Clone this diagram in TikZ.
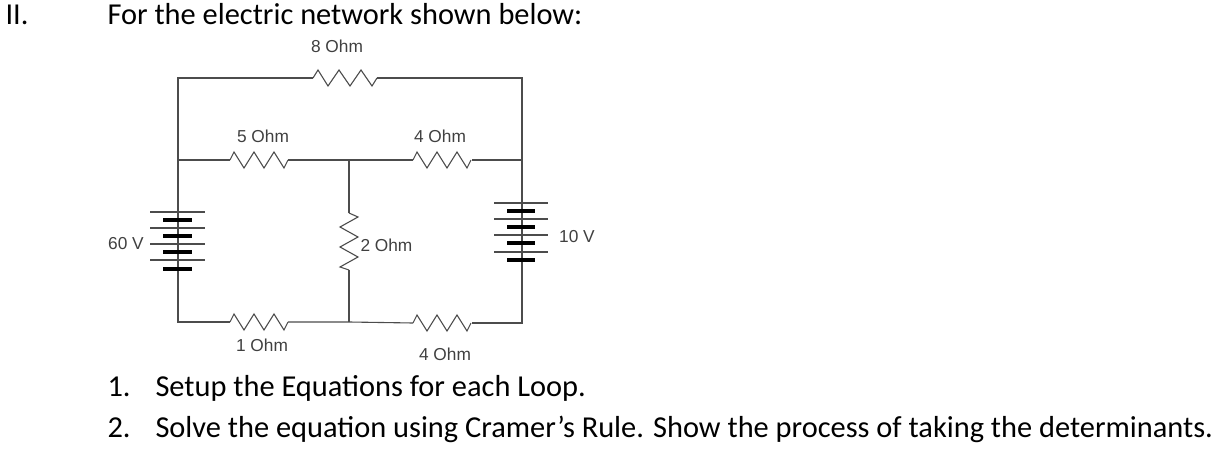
\documentclass[tikz,border=0pt]{standalone}
\usepackage{fontspec}
\setmainfont{Carlito}
\newfontfamily\arial{Liberation Sans}
\begin{document}
\begin{tikzpicture}[x=1pt,y=-1pt,line width=1pt,
  lbl/.style={font=\arial\fontsize{17.3}{19}\selectfont,text=black!75,inner sep=0pt},
  txt/.style={font=\fontsize{30.4}{34}\selectfont,anchor=base west,inner sep=0pt},
  wire/.style={draw=black!70,line width=1.1pt},
  hres/.pic={\draw[wire] (0,0)--(4,-8)--(14,8)--(24,-8)--(34,8)--(44,-8)--(54,8)--(58,0);},
  hres8/.pic={\draw[wire] (0,0)--(5,-8)--(15,8)--(26,-8)--(37,8)--(48,-8)--(59,8)--(64,0);},
  vres/.pic={\draw[wire] (0,0)--(9,4)--(-9,14)--(9,24)--(-9,34)--(9,44)--(-9,54)--(0,57);},
  thin/.style={draw=black!70,line width=1.1pt},
  thick/.style={draw=black,line width=4pt}]
\useasboundingbox (0,0) rectangle (1226,449);
\coordinate (TL) at (178,78); \coordinate (TR) at (522,78);
\coordinate (ML) at (178,160); \coordinate (MM) at (349,160); \coordinate (MR) at (522,160);
\coordinate (BL) at (178,322); \coordinate (BM) at (349,322); \coordinate (BR) at (522,323);
% wires
\draw[wire] (178,212) -- (ML) -- (TL) -- (313,78);
\draw[wire] (377,78) -- (TR) -- (MR) -- (522,203);
\draw[wire] (ML) -- (230,160); \draw[wire] (288,160) -- (MM) -- (413,160); \draw[wire] (472,160) -- (MR);
\draw[wire] (MM) -- (349,213); \draw[wire] (349,270) -- (BM);
\draw[wire] (178,269) -- (BL) -- (230,322); \draw[wire] (288,322) -- (BM) -- (413,323); \draw[wire] (472,323) -- (BR) -- (522,260);
\pic at (313,78) {hres8};
\pic at (230,160) {hres};
\pic at (413,160) {hres};
\pic at (230,322) {hres};
\pic at (413,323) {hres};
\pic at (349,213) {vres};
% left battery
\draw[thin] (178,212) -- (178,269);
\foreach \y in {212,228,244,260} \draw[thin] (150,\y) -- (205,\y);
\foreach \y in {220,236,252,269} \draw[thick] (163,\y) -- (192,\y);
% right battery
\draw[thin] (522,203) -- (522,260);
\foreach \y in {203,219,235,252} \draw[thin] (494,\y) -- (548,\y);
\foreach \y in {211,227,243,260} \draw[thick] (507,\y) -- (535,\y);
% labels
\node[lbl] (l8) at (337,46) {8 Ohm};
\node[lbl] (l5) at (263,136) {5 Ohm};
\node[lbl] (l4a) at (440,136) {4 Ohm};
\node[lbl,anchor=west] (l2) at (360,245) {2 Ohm};
\node[lbl] (l60) at (126,244) {60 V};
\node[lbl] (l10) at (577,237) {10 V};
\node[lbl] (l1) at (262,345) {1 Ohm};
\node[lbl] (l4b) at (445,354) {4 Ohm};
% text
\node[txt] (t0) at (5,25) {II.};
\node[txt] (t1) at (107,25) {For the electric network shown below:};
\node[txt] (n1) at (107,396) {1.};
\node[txt] (s1) at (155,396) {Setup the Equations for each Loop.};
\node[txt] (n2) at (107,437) {2.};
\node[txt] (s2) at (155,437) {Solve the equation using Cramer’s Rule. Show the process of taking the determinants.};
\end{tikzpicture}
\end{document}
